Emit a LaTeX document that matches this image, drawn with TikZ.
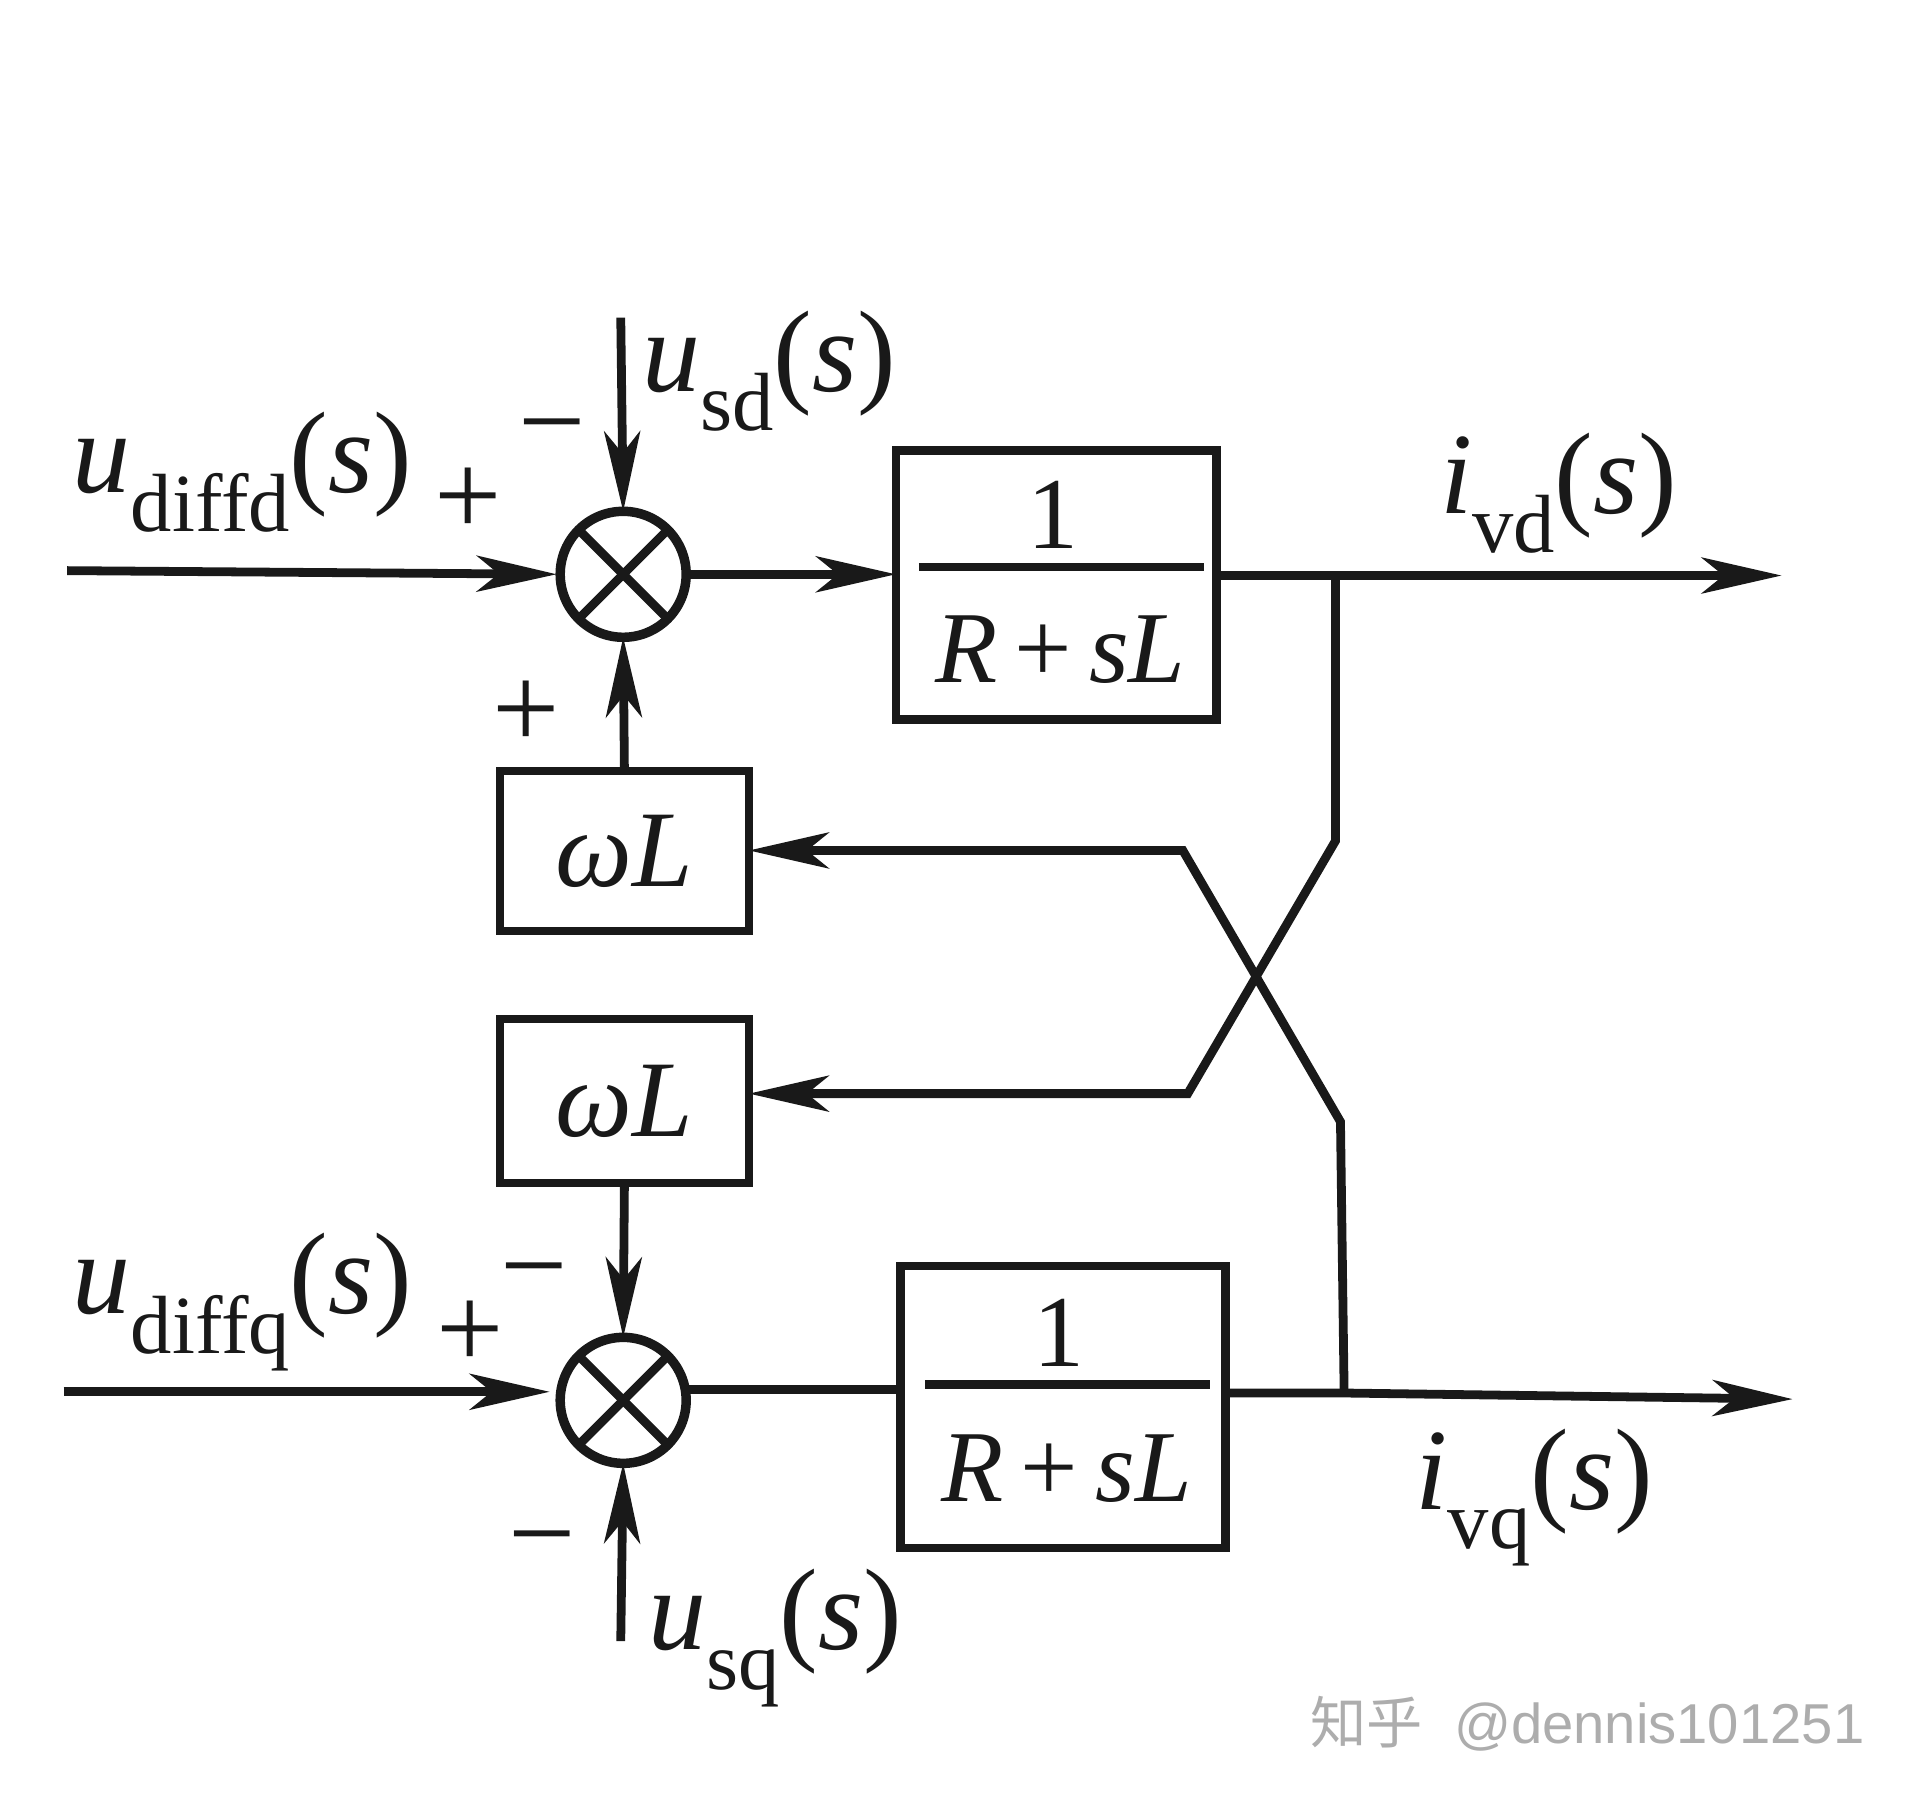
\documentclass[tikz,border=0pt]{standalone}
\usepackage{fontspec}
\setmainfont{Liberation Serif}
\newfontfamily\cjkfont{Noto Sans CJK SC}
\newfontfamily\markfont{Liberation Sans}
\usetikzlibrary{arrows.meta, calc, positioning}

% signal label: italic letter, upright subscript, (s)
\newcommand{\siglabel}[2]{\textit{#1}\raisebox{-0.34em}{\fontsize{23.5}{25}\selectfont #2}(\textit{s})}

\tikzset{
  sigline/.style={line width=2.5pt, draw=black!90},
  sigarrow/.style={sigline, -{Stealth[length=0.8cm, width=0.36cm, inset=0.22cm]}},
  blockbox/.style={draw=black!90, line width=2.5pt, inner sep=0pt, outer sep=0pt, text=black!90},
  sumnode/.style={circle, draw=black!90, line width=2.7pt, minimum size=1.26cm, inner sep=0pt, outer sep=0pt},
  siglab/.style={anchor=base west, inner sep=0pt, text=black!90, font=\fontsize{33}{36}\selectfont},
  signmark/.style={inner sep=0pt, text=black!90, font=\fontsize{34}{36}\selectfont},
  fractext/.style={inner sep=0pt, text=black!90, font=\fontsize{29}{32}\selectfont}
}

\begin{document}
\begin{tikzpicture}[x=0.01222cm, y=-0.01222cm]
\useasboundingbox (0,0) rectangle (1568,1477);

% Blocks
\node[blockbox, minimum width=3.21cm, minimum height=2.69cm] (boxd) at (864.5,479) {};
\node[blockbox, minimum width=3.25cm, minimum height=2.82cm] (boxq) at (870,1151.5) {};
\node[blockbox, minimum width=2.49cm, minimum height=1.60cm, font=\fontsize{31}{34}\selectfont] (wld) at (511,696.5) {\textit{ωL}};
\node[blockbox, minimum width=2.49cm, minimum height=1.64cm, font=\fontsize{31}{34}\selectfont] (wlq) at (511,901) {\textit{ωL}};

% Summing points
\node[sumnode] (sumd) at (510,470) {};
\node[sumnode] (sumq) at (510,1146) {};
\foreach \sumname in {sumd, sumq} {
    \draw[sigline] (\sumname.45) -- (\sumname.225);
    \draw[sigline] (\sumname.135) -- (\sumname.315);
}

% Fractions in the blocks
\node[fractext] (numd) at (862,421) {1};
\node[fractext] (dend) at (868,532) {\textit{R}\,+\,\textit{sL}};
\coordinate (bard1) at (752,464);
\coordinate (bard2) at (985,464);
\draw[sigline] (bard1) -- (bard2);
\node[fractext] (numq) at (867,1091) {1};
\node[fractext] (denq) at (873,1202) {\textit{R}\,+\,\textit{sL}};
\coordinate (barq1) at (757,1133);
\coordinate (barq2) at (990,1133);
\draw[sigline] (barq1) -- (barq2);

% Free ends and bends
\coordinate (ind) at (55,467);
\coordinate (inq) at (52,1139);
\coordinate (usd) at (508,260);
\coordinate (usq) at (508,1343);
\coordinate (outd) at (1458,471);
\coordinate (outq) at (1467,1145);
\coordinate (jund) at (1093,471);
\coordinate (junq) at (1100,1140);
\coordinate (bendd1) at (1093,688);
\coordinate (bendd2) at (972,895);
\coordinate (bendq1) at (1097,918);
\coordinate (bendq2) at (968,696);
\coordinate (midq) at (600,1137);
\coordinate (startq) at (1003,1140);

% Forward paths
\draw[sigarrow, shorten >=1pt] (ind) -- (sumd.west);
\draw[sigarrow] (sumd.east) -- (boxd.west |- sumd.east);
\draw[sigarrow] (boxd.east |- outd) -- (outd);
\draw[sigarrow, shorten >=3pt] (inq) -- (sumq.west |- inq);
\draw[sigline] (sumq.east |- midq) -- (boxq.west |- midq);
\draw[sigarrow] (startq) -- (junq) -- (outq);

% Voltage inputs
\draw[sigarrow] (usd) -- (sumd.north);
\draw[sigarrow] (usq) -- (sumq.south);
\draw[sigarrow] (wld.north) -- (sumd.south);
\draw[sigarrow] (wlq.south) -- (sumq.north);

% Cross coupling
\draw[sigarrow] (jund) -- (bendd1) -- (bendd2) -- (wlq.east |- bendd2);
\draw[sigarrow] (junq) -- (bendq1) -- (bendq2) -- (wld.east |- bendq2);

% Signal labels
\node[siglab] (ludd) at (59,403) {\siglabel{u}{diffd}};
\node[siglab] (luqq) at (59,1075) {\siglabel{u}{diffq}};
\node[siglab] (lusd) at (525,320) {\siglabel{u}{sd}};
\node[siglab] (lusq) at (530,1350) {\siglabel{u}{sq}};
\node[siglab] (livd) at (1178,420) {\siglabel{i}{vd}};
\node[siglab] (livq) at (1158,1235) {\siglabel{i}{vq}};

% Signs
\node[signmark] (pd1) at (383,411) {+};
\node[signmark] (pd2) at (431,585) {+};
\node[signmark] (pq1) at (385,1092) {+};
\node[signmark] (md1) at (452,360) {−};
\node[signmark] (mq1) at (437,1051) {−};
\node[signmark] (mq2) at (444,1270) {−};

% Watermark
\node[anchor=base west, inner sep=0pt, text=black!32, font=\fontsize{16}{18}\selectfont] (mark) at (1072,1427) {{\cjkfont 知乎}\hspace{0.55em}{\markfont @dennis101251}};
\end{tikzpicture}
\end{document}
